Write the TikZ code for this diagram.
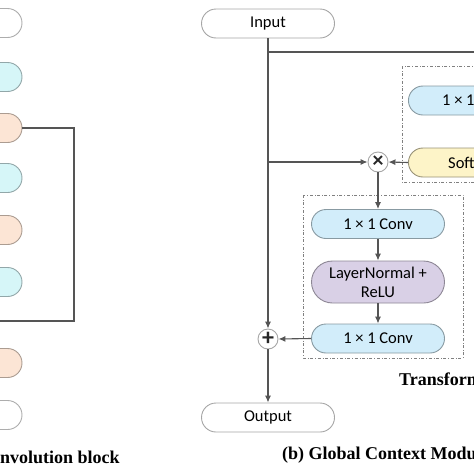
\documentclass[tikz,border=0pt]{standalone}
\usepackage{fontspec}
\setmainfont{Liberation Serif}
\setsansfont{Carlito}
\usetikzlibrary{arrows.meta,positioning,shapes.misc}
\def\pillwidth{137pt}
\definecolor{convblue}{HTML}{D2EDFA}
\definecolor{convcyan}{HTML}{D6F6F8}
\definecolor{peach}{HTML}{FCE5D5}
\definecolor{softyellow}{HTML}{FDF4C8}
\definecolor{lavender}{HTML}{D9D0E6}
\definecolor{lineg}{HTML}{555555}

\begin{document}
\begin{tikzpicture}[x=1pt,y=-1pt,>={Latex[length=7pt,width=6pt]}]
    \tikzstyle{pill}=[rounded rectangle,minimum width=\pillwidth,minimum height=29pt,inner sep=2pt,line width=0.9pt,font=\sffamily\fontsize{16.5}{19}\selectfont]
    \tikzstyle{io}=[pill,fill=white,draw=black!35]
    \tikzstyle{conv}=[pill,fill=convblue,draw=convblue!65!black]
    \tikzstyle{op}=[circle,draw=black!35,fill=white,minimum size=20pt,inner sep=0pt,line width=0.9pt,text=black!85]
    \tikzstyle{link}=[draw=lineg,line width=1.1pt]
    \tikzstyle{group}=[draw=black!50,dash dot,line width=0.8pt]
    \tikzstyle{cut text}=[anchor=west,inner sep=0pt,font=\sffamily\fontsize{16.5}{19}\selectfont]
    \tikzstyle{caption}=[anchor=west,inner sep=0pt,font=\bfseries\fontsize{18}{20}\selectfont]

    \path[use as bounding box,clip] (0,0) rectangle (474,474);

    % Draw the blocks of the left column (cut by the edge)
    \foreach \name / \y / \col in {1/23/white,2/77/convcyan,3/128/peach,4/178/convcyan,5/230/peach,6/282/convcyan,7/363/peach,8/415/white}
        \node[pill,fill=\col,draw=\col!68!black] (L-\name) at (-44.5,\y) {};

    % The skip line of the left column
    \coordinate (skip-corner) at (74,321);
    \coordinate (skip-end) at (-10,321);
    \draw[link] (L-3.east) -| (skip-corner) -- (skip-end);

    % Input, output and the two fusion points
    \node[io] (in) at (268,23.5) {Input};
    \node[io] (out) at (268,417.5) {Output};
    \node[op] (mul) at (378,162) {\sffamily\bfseries\fontsize{22}{22}\selectfont ×};
    \node[op] (add) at (268,339) {\sffamily\bfseries\fontsize{24}{24}\selectfont +};

    % Context modelling branch (cut by the edge)
    \node[conv,anchor=west] (ctx) at (408,100.5) {};
    \node[cut text] (ctx-txt) at (442,100.5) {1 × 1};
    \node[pill,fill=softyellow,draw=softyellow!60!black,anchor=west] (soft) at (408,162.5) {};
    \node[cut text] (soft-txt) at (448,162.5) {Soft};

    % Transform branch
    \node[conv] (c1) at (378,224) {1 × 1 Conv};
    \node[pill,fill=lavender,draw=lavender!65!black,minimum height=42pt,align=center] (ln) at (378,282) {LayerNormal +\\ReLU};
    \node[conv] (c2) at (378,338.5) {1 × 1 Conv};

    % Dash-dotted groups
    \draw[group] (402,66) rectangle (490,182);
    \draw[group] (303,195) rectangle (463,358);

    % Connect the blocks
    \coordinate (split) at (268,52);
    \coordinate (right-end) at (480,52);
    \draw[link] (split) -- (right-end);
    \draw[link,->] (in.south) -- (add.north);
    \draw[link,->] (in.south |- mul.west) -- (mul.west);
    \draw[link,->] (soft.west) -- (mul.east);
    \draw[link,->] (mul.south) -- (c1.north);
    \draw[link,->] (c1.south) -- (ln.north);
    \draw[link,->] (ln.south) -- (c2.north);
    \draw[link,->] (c2.west) -- (add.east);
    \draw[link,->] (add.south) -- (out.north);

    % Captions
    \node[caption] (cap-t) at (399,379) {Transform};
    \node[caption] (cap-a) at (0,457) {nvolution block};
    \node[caption] (cap-b) at (282,455) {(b) Global Context Modu};
\end{tikzpicture}
\end{document}
